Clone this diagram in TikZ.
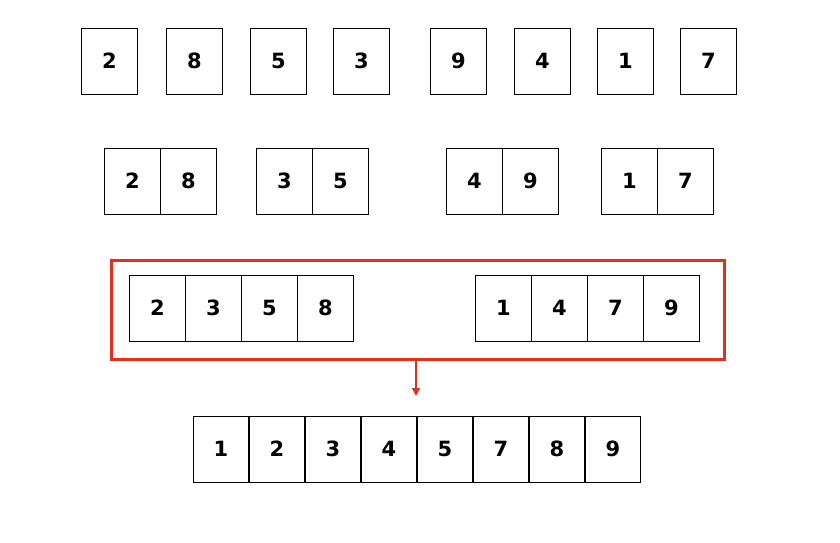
\documentclass[tikz,border=0pt]{standalone}
\usepackage{fontspec}
\setsansfont{DejaVu Sans}
\definecolor{redf}{HTML}{E0301E}
\usetikzlibrary{arrows.meta}
\begin{document}
\begin{tikzpicture}[x=1pt,y=-1pt,
  cell/.style={draw,line width=0.7pt,minimum width=56pt,minimum height=66pt,inner sep=0pt,text height=15pt,text depth=0pt,font=\sffamily\bfseries\fontsize{21}{21}\selectfont,anchor=north west},
  frame/.style={draw=redf,line width=2.8pt},
  arr/.style={draw=redf,line width=1.6pt,-{Triangle[length=8pt,width=8pt]}}]
\useasboundingbox (0,0) rectangle (840,542);
% row 1
\foreach \x/\v/\n in {81/2/a,166/8/b,250/5/c,333/3/d,430/9/e,514/4/f,597/1/g,680/7/h}
  \node[cell] (r1\n) at (\x,28) {\v};
% row 2
\foreach \x/\v/\n in {104/2/a,160/8/b,256/3/c,312/5/d,446/4/e,502/9/f,601/1/g,657/7/h}
  \node[cell] (r2\n) at (\x,148) {\v};
% row 3
\node[frame,minimum width=613pt,minimum height=99pt,anchor=north west,inner sep=0pt] (fr) at (110,259) {};
\foreach \x/\v/\n in {129/2/a,185/3/b,241/5/c,297/8/d,475/1/e,531/4/f,587/7/g,643/9/h}
  \node[cell] (r3\n) at (\x,275) {\v};
% row 4
\foreach \x/\v/\n in {193/1/a,249/2/b,305/3/c,361/4/d,417/5/e,473/7/f,529/8/g,585/9/h}
  \node[cell,minimum width=55pt] (r4\n) at (\x,416) {\v};
\coordinate (top) at (416,359);
\coordinate (bot) at (416,396);
\draw[arr] (top) -- (bot);
\end{tikzpicture}
\end{document}
